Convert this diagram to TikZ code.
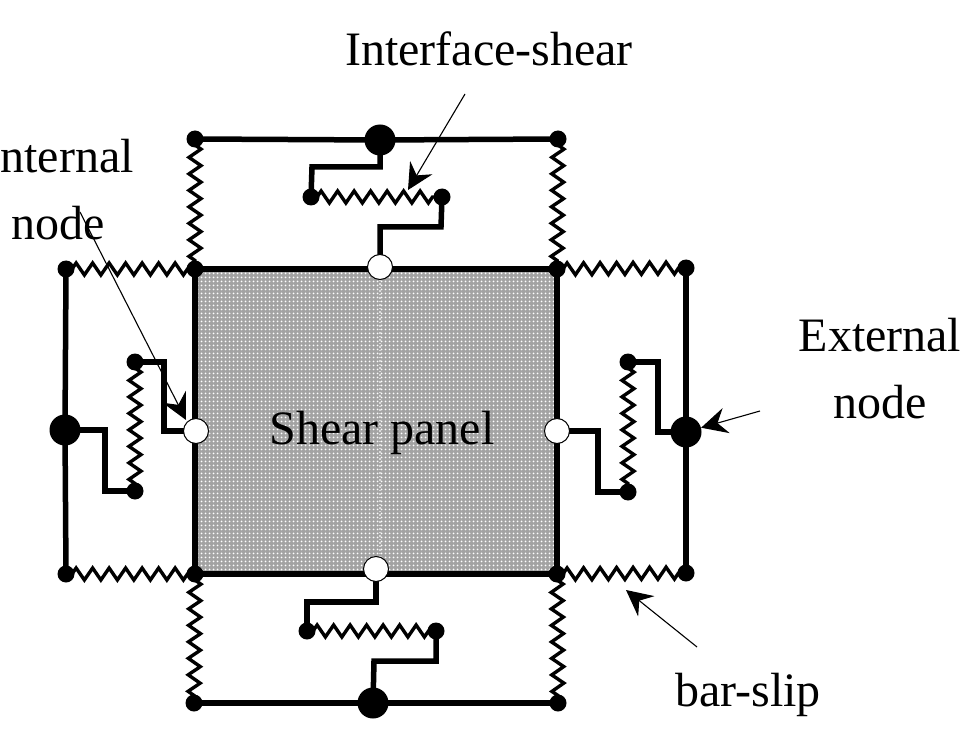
\documentclass[tikz,border=0pt]{standalone}
\usepackage{fontspec}
\setmainfont{Liberation Serif}
\usetikzlibrary{arrows.meta,patterns,backgrounds,decorations.pathmorphing}
\pgfdeclarepatternformonly{paneldots}{\pgfqpoint{0pt}{0pt}}{\pgfqpoint{4pt}{4pt}}{\pgfqpoint{4pt}{4pt}}{%
  \pgfpathcircle{\pgfqpoint{2pt}{2pt}}{1.2pt}\pgfusepath{fill}}

\begin{document}
\begin{tikzpicture}[x=1pt,y=-1pt]%
  \tikzstyle{bign}=[circle,fill=black,inner sep=0,minimum size=31pt]
  \tikzstyle{smalln}=[circle,fill=black,inner sep=0,minimum size=17pt]
  \tikzstyle{whiten}=[circle,draw=black,fill=white,line width=1pt,inner sep=0,minimum size=25pt]
  \tikzstyle{bar}=[line width=5.5pt,line join=miter]
  \tikzstyle{spring}=[line width=3.4pt,decorate,decoration={zigzag,segment length=16.5pt,amplitude=6pt,pre length=6pt,post length=6pt}]
  \tikzstyle{leader}=[line width=1.1pt,-{Stealth[length=26pt,width=26pt,inset=9pt]}]
  \tikzstyle{lab}=[font=\fontsize{48}{48}\selectfont,inner sep=0]
  \useasboundingbox (0,0) rectangle (963,743);
  % nodes
  \node(tl)[smalln] at (195,139){};
  \node(tr)[smalln] at (558,139){};
  \node(bl)[smalln] at (194,703){};
  \node(br)[smalln] at (558,703){};
  \node(lt)[smalln] at (66,269){};
  \node(lb)[smalln] at (66,574){};
  \node(rt)[smalln] at (686,268){};
  \node(rb)[smalln] at (686,573){};
  \node(ca)[smalln] at (195,269){};
  \node(cb)[smalln] at (557,269){};
  \node(cc)[smalln] at (557,574){};
  \node(cd)[smalln] at (195,574){};
  \node(ta)[smalln] at (311,197){};
  \node(tb)[smalln] at (442,197){};
  \node(ba)[smalln] at (307,631){};
  \node(bb)[smalln] at (436,631){};
  \node(la)[smalln] at (135,362){};
  \node(lc)[smalln] at (135,491){};
  \node(ra)[smalln] at (628,362){};
  \node(rc)[smalln] at (628,492){};
  \node(extt)[bign] at (380,140){};
  \node(extb)[bign] at (373,703){};
  \node(extl)[bign] at (65,430){};
  \node(extr)[bign] at (686,432){};
  \node(intt)[whiten] at (380,267){};
  \node(intb)[whiten] at (376,569){};
  \node(intl)[whiten] at (196,431){};
  \node(intr)[whiten] at (557,431){};
  \begin{pgfonlayer}{background}
    % panel
    \path[fill=black!36] (ca.center) rectangle (cc.center);
    \path[pattern=paneldots,pattern color=white] (ca.center) rectangle (cc.center);
    \draw[white!85!black,line width=1.5pt,dotted] (380,269) -- (380,574);
    % springs
    \draw[spring] (tl.center) -- (ca.center);
    \draw[spring] (tr.center) -- (cb.center);
    \draw[spring] (cd.center) -- (bl.center);
    \draw[spring] (cc.center) -- (br.center);
    \draw[spring] (lt.center) -- (ca.center);
    \draw[spring] (lb.center) -- (cd.center);
    \draw[spring] (cb.center) -- (rt.center);
    \draw[spring] (cc.center) -- (rb.center);
    \draw[spring] (ta.center) -- (tb.center);
    \draw[spring] (ba.center) -- (bb.center);
    \draw[spring] (la.center) -- (lc.center);
    \draw[spring] (ra.center) -- (rc.center);
    % frame
    \draw[bar] (ca.center) -- (cb.center) -- (cc.center) -- (cd.center) -- cycle;
    \draw[bar] (tl.center) -- (extt.center) -- (tr.center);
    \draw[bar] (bl.center) -- (extb.center) -- (br.center);
    \draw[bar] (lt.center) -- (extl.center) -- (lb.center);
    \draw[bar] (rt.center) -- (extr.center) -- (rb.center);
    % links
    \draw[bar] (extt.center) -- (380,167) -- (312,167) -- (ta.center);
    \draw[bar] (tb.center) -- (441,227) -- (380,227) -- (intt.center);
    \draw[bar] (intb.center) -- (376,602) -- (307,602) -- (ba.center);
    \draw[bar] (bb.center) -- (436,661) -- (374,661) -- (extb.center);
    \draw[bar] (extl.center) -- (105,430) -- (105,491) -- (lc.center);
    \draw[bar] (la.center) -- (164,362) -- (164,431) -- (intl.center);
    \draw[bar] (intr.center) -- (598,431) -- (598,492) -- (rc.center);
    \draw[bar] (ra.center) -- (658,362) -- (658,432) -- (extr.center);
  \end{pgfonlayer}
  % labels
  \node(shear)[lab] at (382,433){Shear panel};
  \node(iface)[lab] at (489,49){Interface-shear};
  \node(inta)[lab,anchor=east] at (134,156){nternal};
  \node(intc)[lab] at (58,223){node};
  \node(exta)[lab] at (880,335){External};
  \node(extc)[lab] at (880,402){node};
  \node(slip)[lab] at (748,695){bar-slip};
  % arrows
  \coordinate(ifs) at (465,94);
  \coordinate(ifa) at (408,190);
  \coordinate(ins) at (80,212);
  \coordinate(ina) at (186,420);
  \coordinate(exs) at (760,411);
  \coordinate(bss) at (697,647);
  \coordinate(bsa) at (626,590);
  \draw[leader] (ifs) -- (ifa);
  \draw[leader] (ins) -- (ina);
  \draw[leader] (exs) -- (extr);
  \draw[leader] (bss) -- (bsa);
\end{tikzpicture}
\end{document}
